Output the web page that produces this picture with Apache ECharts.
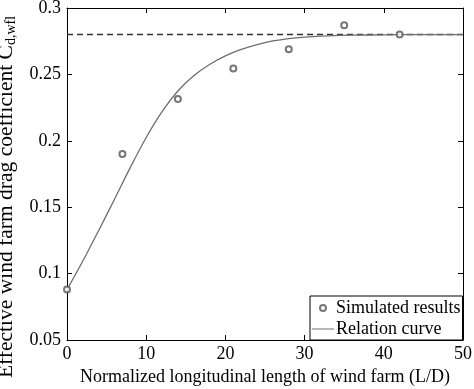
<!DOCTYPE html>
<html>
<head>
<meta charset="utf-8">
<script src="https://cdn.jsdelivr.net/npm/echarts@6/dist/echarts.min.js"></script>
<style>html,body{margin:0;padding:0;background:#fff;}#c{width:474px;height:389px;}</style>
</head>
<body>
<div id="c"></div>
<script>
// Simulated results (L/D, Cd)
const simX = [0, 7, 14, 21, 28, 35, 42];
const simY = [0.088, 0.190, 0.2315, 0.2545, 0.269, 0.287, 0.280];
// Relation curve
const curveX = [0, 2, 4, 6, 8, 10, 12, 14, 16, 18, 20, 22, 24, 26, 28, 30, 33, 36, 40, 45, 50];
const curveY = [0.088, 0.1095, 0.1325, 0.156, 0.180, 0.2025, 0.222, 0.2375, 0.249, 0.2575, 0.264, 0.2688, 0.2725, 0.2752, 0.2770, 0.2781, 0.2790, 0.2795, 0.2798, 0.2800, 0.2800];
// Asymptote (dashed)
const asymX = [0, 50];
const asymY = [0.28, 0.28];
const xTicks = [0, 10, 20, 30, 40, 50];
const yTicks = [0.05, 0.1, 0.15, 0.2, 0.25, 0.3];

const font = 'Liberation Serif';
const chart = echarts.init(document.getElementById('c'));
const axisCommon = {
  axisLine: {show: true, onZero: false, lineStyle: {color: '#000', width: 1}},
  axisTick: {show: true, inside: true, length: 5, lineStyle: {color: '#000'}},
  splitLine: {show: false}
};
chart.setOption({
  animation: false,
  backgroundColor: '#fff',
  grid: {left: 67, right: 11, top: 8, bottom: 49, containLabel: false, outerBoundsMode: 'none'},
  xAxis: [
    Object.assign({
      type: 'value', min: 0, max: 50, interval: 10, position: 'bottom',
      name: 'Normalized longitudinal length of wind farm (L/D)',
      nameLocation: 'middle', nameGap: 19,
      nameTextStyle: {fontFamily: font, fontSize: 18, color: '#000'},
      axisLabel: {fontFamily: font, fontSize: 18, color: '#000', margin: 5,
        formatter: v => xTicks.includes(v) ? String(v) : ''}
    }, axisCommon),
    Object.assign({
      type: 'value', min: 0, max: 50, interval: 10, position: 'top',
      axisLabel: {show: false}
    }, axisCommon)
  ],
  yAxis: [
    Object.assign({
      type: 'value', min: 0.05, max: 0.3, interval: 0.05, position: 'left',
      name: 'Effective wind farm drag coefficient C{sub|d,wfl}',
      nameLocation: 'middle', nameGap: 34, nameRotate: 90,
      nameTextStyle: {fontFamily: font, fontSize: 21.5, color: '#000', padding: [0, 46, 0, 0],
        rich: {sub: {fontFamily: font, fontSize: 14, color: '#000', verticalAlign: 'bottom', padding: [11, 0, 0, 0]}}},
      axisLabel: {fontFamily: font, fontSize: 18, color: '#000', margin: 6,
        formatter: v => { const t = yTicks.find(y => Math.abs(y - v) < 1e-9); return t === undefined ? '' : String(t); }}
    }, axisCommon),
    Object.assign({
      type: 'value', min: 0.05, max: 0.3, interval: 0.05, position: 'right',
      axisLabel: {show: false}
    }, axisCommon)
  ],
  legend: {
    left: 310, top: 296, orient: 'vertical',
    itemWidth: 22, itemHeight: 6, itemGap: 3,
    padding: [3, 2, 2, 2],
    borderColor: '#000', borderWidth: 1, backgroundColor: '#fff',
    textStyle: {fontFamily: font, fontSize: 18, color: '#000', padding: [0, 0, 0, -3]},
    data: [
      {name: 'Simulated results', icon: 'emptyCircle'},
      {name: 'Relation curve', icon: 'path://M0,0 L22,0 L22,1 L0,1 Z'}
    ]
  },
  series: [
    {
      name: 'asymptote', type: 'line', data: asymX.map((x, i) => [x, asymY[i]]),
      symbol: 'none', lineStyle: {color: '#333', width: 1.4, type: [6, 4]}, z: 1, silent: true
    },
    {
      name: 'Relation curve', type: 'line', data: curveX.map((x, i) => [x, curveY[i]]),
      smooth: 0.3, symbol: 'none',
      lineStyle: {color: '#6e6e6e', width: 1.3}, itemStyle: {color: '#6e6e6e'}, z: 2
    },
    {
      name: 'Simulated results', type: 'scatter', data: simX.map((x, i) => [x, simY[i]]),
      symbol: 'emptyCircle', symbolSize: 6,
      itemStyle: {color: '#555', borderColor: '#555', borderWidth: 1}, z: 3
    }
  ]
});
</script>
</body>
</html>
